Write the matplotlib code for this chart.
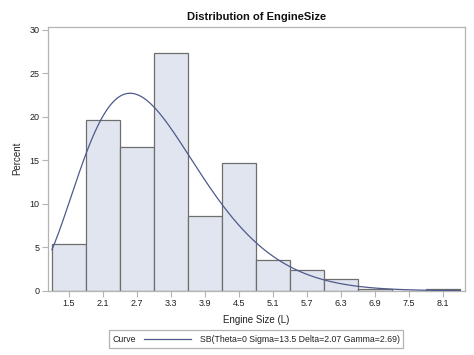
import numpy as np
import matplotlib
matplotlib.use("Agg")
import matplotlib.pyplot as plt
from matplotlib.lines import Line2D
from matplotlib.offsetbox import AnchoredOffsetbox, HPacker, TextArea, DrawingArea

plt.rcParams['font.family'] = ['Liberation Sans', 'DejaVu Sans']

# ---- data ----
bin_midpoints = [1.5, 2.1, 2.7, 3.3, 3.9, 4.5, 5.1, 5.7, 6.3, 6.9, 7.5, 8.1]
percent = [5.37, 19.63, 16.59, 27.34, 8.64, 14.72, 3.50, 2.34, 1.40, 0.23, 0.0, 0.23]
bin_width = 0.6
x_ticks = bin_midpoints
y_ticks = [0, 5, 10, 15, 20, 25, 30]

# Johnson SB fitted curve parameters (from the legend)
sb_theta = 0.0
sb_sigma = 13.5
sb_delta = 2.07
sb_gamma = 2.69
curve_label = "SB(Theta=0 Sigma=13.5 Delta=2.07 Gamma=2.69)"

bar_fill = "#e1e5ef"
bar_edge = "#6e6e6e"
curve_color = "#4f5a8c"
frame_color = "#b4b4b4"
text_color = "#222222"

fig = plt.figure(figsize=(4.74, 3.55), dpi=100)
ax = fig.add_axes([0.1006, 0.1811, 0.8798, 0.7437])

ax.bar(bin_midpoints, percent, width=bin_width, color=bar_fill,
       edgecolor=bar_edge, linewidth=0.9, zorder=2)

# fitted density scaled to percent per bin
lo = bin_midpoints[0] - bin_width / 2
hi = bin_midpoints[-1] + bin_width / 2
xs = np.linspace(lo, hi, 400)
u = (xs - sb_theta) / sb_sigma
z = sb_gamma + sb_delta * np.log(u / (1 - u))
dens = sb_delta / (sb_sigma * np.sqrt(2 * np.pi) * u * (1 - u)) * np.exp(-0.5 * z ** 2)
ax.plot(xs, 100 * bin_width * dens, color=curve_color, linewidth=0.9, zorder=3)

ax.set_xlim(1.125, 8.48)
ax.set_ylim(0, 30.38)
ax.set_xticks(x_ticks)
ax.set_xticklabels([f"{v:.1f}" for v in x_ticks])
ax.set_yticks(y_ticks)

for s in ax.spines.values():
    s.set_color(frame_color)
    s.set_linewidth(0.9)
ax.tick_params(axis='both', colors=frame_color, labelcolor=text_color,
               labelsize=6.5, length=4, width=0.8, pad=2)

ax.set_xlabel("Engine Size (L)", fontsize=7, color=text_color, labelpad=5)
ax.set_ylabel("Percent", fontsize=7, color=text_color, labelpad=5)
ax.set_title("Distribution of EngineSize", fontsize=8, fontweight='bold',
             color="#111111", pad=5)

# legend box: "Curve  ----  label"
tp = dict(fontsize=6.3, color=text_color)
da = DrawingArea(34, 8, 0, 0)
da.add_artist(Line2D([0, 34], [4, 4], color=curve_color, linewidth=0.9))
box = HPacker(children=[TextArea("Curve", textprops=tp), da,
                        TextArea(curve_label, textprops=tp)],
              align="center", pad=0, sep=6)
leg = AnchoredOffsetbox(loc='center', child=box, pad=0.25, borderpad=0,
                        frameon=True, bbox_to_anchor=(0.54, 0.044),
                        bbox_transform=fig.transFigure)
leg.patch.set_edgecolor(frame_color)
leg.patch.set_linewidth(0.9)
leg.patch.set_boxstyle("square,pad=0")
fig.add_artist(leg)

fig.savefig("out.png", dpi=100)
